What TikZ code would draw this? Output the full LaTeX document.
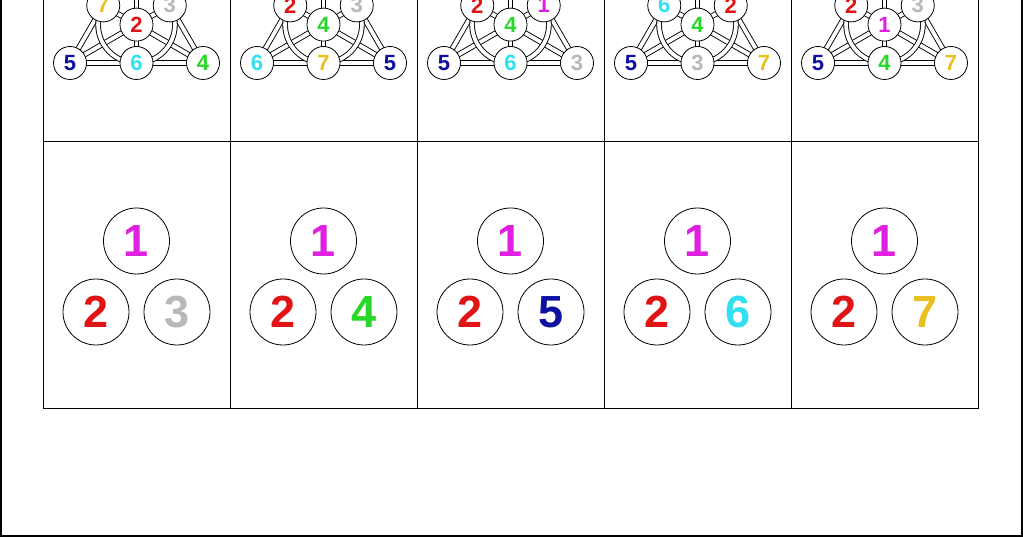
\documentclass[tikz,border=0pt]{standalone}
\usepackage{fontspec}
\setmainfont{Liberation Sans}
\pgfdeclarelayer{bg}
\pgfsetlayers{bg,main}
\definecolor{c1}{RGB}{224,32,224}
\definecolor{c2}{RGB}{224,20,20}
\definecolor{c3}{RGB}{184,184,184}
\definecolor{c4}{RGB}{40,216,40}
\definecolor{c5}{RGB}{16,16,160}
\definecolor{c6}{RGB}{48,224,240}
\definecolor{c7}{RGB}{232,192,32}
\tikzset{
  fanoline/.style={draw=black, double=white, double distance=3.8pt, line width=0.9pt},
  smallnode/.style={circle, draw=black, fill=white, minimum size=33pt, inner sep=0pt, line width=0.8pt, font=\fontsize{22}{22}\selectfont\bfseries},
  bignode/.style={circle, draw=black, fill=white, minimum size=66pt, inner sep=0pt, line width=0.8pt, font=\fontsize{45}{45}\selectfont\bfseries},
  frame/.style={draw=black, line width=1.8pt},
  grid/.style={draw=black, line width=1pt}
}
\begin{document}
\begin{tikzpicture}[x=1pt,y=-1pt]
\useasboundingbox (0,0) rectangle (1023,537);
\clip (0,0) rectangle (1023,537);
% outer frame
\draw[frame] (1,-20) rectangle (1022,536);
% table
\draw[grid] (43,-20) rectangle (978,408);
\draw[grid] (43,142) -- (978,142);
\foreach \xx in {230,417,604,791} {\draw[grid] (\xx,-20) -- (\xx,408);}
% top Fano graphs
\foreach \i/\tl/\tr/\c/\bl/\bm/\br in {0/7/3/2/5/6/4, 1/2/3/4/6/7/5, 2/2/1/4/5/6/3, 3/6/2/4/5/3/7, 4/2/3/1/5/4/7} {
  \pgfmathsetmacro{\cx}{136.5+187*\i}
  \coordinate (top\i) at (\cx,-52);
  \node[smallnode, text=c\bl] (bl\i) at (\cx-66.5,63) {\bl};
  \node[smallnode, text=c\bm] (bm\i) at (\cx,63) {\bm};
  \node[smallnode, text=c\br] (br\i) at (\cx+66.5,63) {\br};
  \node[smallnode, text=c\tl] (tl\i) at (\cx-33.25,5.4) {\tl};
  \node[smallnode, text=c\tr] (tr\i) at (\cx+33.25,5.4) {\tr};
  \node[smallnode, text=c\c] (c\i) at (\cx,24.6) {\c};
  \begin{pgfonlayer}{bg}
    \draw[fanoline] (bl\i.center) -- (br\i.center);
    \draw[fanoline] (bl\i.center) -- (top\i);
    \draw[fanoline] (br\i.center) -- (top\i);
    \draw[fanoline] (bl\i.center) -- (tr\i.center);
    \draw[fanoline] (br\i.center) -- (tl\i.center);
    \draw[fanoline] (bm\i.center) -- (top\i);
    \draw[fanoline] (c\i.center) circle (38.4pt);
  \end{pgfonlayer}
}
% bottom triangles
\foreach \i/\r in {0/3, 1/4, 2/5, 3/6, 4/7} {
  \pgfmathsetmacro{\cx}{136.5+187*\i}
  \node[bignode, text=c1] (one\i) at (\cx,241) {1};
  \node[bignode, text=c2] (two\i) at (\cx-40.5,312) {2};
  \node[bignode, text=c\r] (oth\i) at (\cx+40.5,312) {\r};
}
\end{tikzpicture}
\end{document}
